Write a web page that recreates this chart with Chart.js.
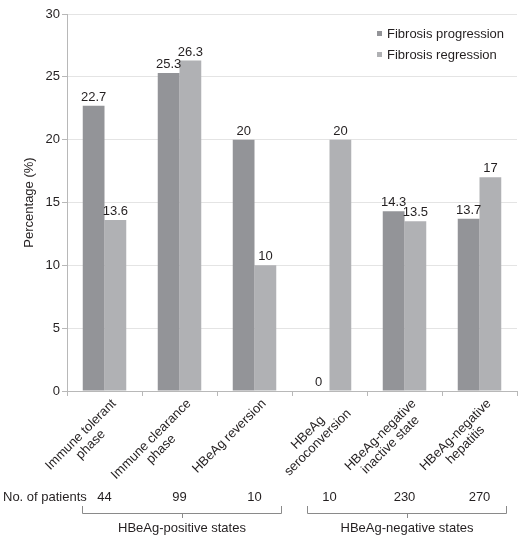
<!DOCTYPE html>
<html>
<head>
<meta charset="utf-8">
<script src="https://cdn.jsdelivr.net/npm/chart.js@4"></script>
<style>
  html, body { margin: 0; padding: 0; background: #fff; }
  #wrap { width: 523px; height: 541px; }
</style>
</head>
<body>
<div id="wrap"><canvas id="chart"></canvas></div>
<script>
const categories = [
    ['Immune tolerant', 'phase'],
    ['Immune clearance', 'phase'],
    ['HBeAg reversion'],
    ['HBeAg', 'seroconversion'],
    ['HBeAg-negative', 'inactive state'],
    ['HBeAg-negative', 'hepatitis']
];
const progression = [22.7, 25.3, 20, 0, 14.3, 13.7];
const regression = [13.6, 26.3, 10, 20, 13.5, 17];
const patients = [44, 99, 10, 10, 230, 270];
const groupNames = ['HBeAg-positive states', 'HBeAg-negative states'];
const groupRanges = [[0, 2], [3, 5]];
const yTicks = [0, 5, 10, 15, 20, 25, 30];

const FONT = '13px "Liberation Sans", Arial, sans-serif';
const TEXT = '#231f20';
const DARK = '#939498';
const LIGHT = '#b0b1b4';
const AXIS = '#b8b8b8';

// value labels, rotated category labels, patient row, group brackets, legend
const extras = {
    id: 'extras',
    afterDatasetsDraw(chart) {
        const ctx = chart.ctx;
        ctx.save();
        ctx.font = FONT;
        ctx.fillStyle = TEXT;
        ctx.textAlign = 'center';
        ctx.textBaseline = 'bottom';
        chart.data.datasets.forEach((ds, di) => {
            chart.getDatasetMeta(di).data.forEach((bar, i) => {
                ctx.fillText(String(ds.data[i]), bar.x, bar.y - 2);
            });
        });
        ctx.restore();
    },
    afterDraw(chart) {
        const ctx = chart.ctx;
        const x = chart.scales.x;
        const base = chart.chartArea.bottom;
        const step = x.getPixelForValue(1) - x.getPixelForValue(0);
        ctx.save();
        ctx.font = FONT;
        ctx.fillStyle = TEXT;

        categories.forEach((lines, i) => {
            const cx = x.getPixelForValue(i);
            const maxW = Math.max(...lines.map(l => ctx.measureText(l).width));
            ctx.save();
            ctx.translate(cx + 5, base + 6);
            ctx.rotate(-Math.PI / 4);
            ctx.textAlign = 'center';
            ctx.textBaseline = 'top';
            lines.forEach((l, j) => ctx.fillText(l, -maxW / 2, j * 14));
            ctx.restore();
        });

        ctx.textBaseline = 'middle';
        ctx.textAlign = 'left';
        ctx.fillText('No. of patients', 3, 497);
        ctx.textAlign = 'center';
        patients.forEach((n, i) => ctx.fillText(String(n), x.getPixelForValue(i), 497));

        ctx.strokeStyle = '#8a8a8a';
        ctx.lineWidth = 1;
        groupRanges.forEach((r, g) => {
            const x0 = Math.round(x.getPixelForValue(r[0]) - step * 0.3) + 0.5;
            const x1 = Math.round(x.getPixelForValue(r[1]) + step * 0.35) + 0.5;
            const mid = Math.round((x0 + x1) / 2) + 0.5;
            ctx.beginPath();
            ctx.moveTo(x0, 506);
            ctx.lineTo(x0, 513.5);
            ctx.lineTo(x1, 513.5);
            ctx.lineTo(x1, 506);
            ctx.moveTo(mid, 513.5);
            ctx.lineTo(mid, 518);
            ctx.stroke();
            ctx.fillText(groupNames[g], (x0 + x1) / 2, 528);
        });

        // legend
        const legend = [['Fibrosis progression', DARK], ['Fibrosis regression', LIGHT]];
        legend.forEach((item, k) => {
            const ly = 34 + k * 21;
            ctx.fillStyle = item[1];
            ctx.fillRect(377, ly - 3, 5, 5);
            ctx.fillStyle = TEXT;
            ctx.textAlign = 'left';
            ctx.fillText(item[0], 387, ly);
        });
        ctx.restore();
    }
};

new Chart(document.getElementById('chart'), {
    type: 'bar',
    data: {
        labels: categories,
        datasets: [
            { label: 'Fibrosis progression', data: progression, backgroundColor: DARK },
            { label: 'Fibrosis regression', data: regression, backgroundColor: LIGHT }
        ]
    },
    options: {
        responsive: true,
        maintainAspectRatio: false,
        animation: false,
        layout: { padding: { top: 14, right: 6, left: 18, bottom: 0 } },
        datasets: { bar: { categoryPercentage: 0.58, barPercentage: 1 } },
        plugins: {
            legend: { display: false },
            tooltip: { enabled: false }
        },
        scales: {
            x: {
                grid: { drawOnChartArea: false, drawTicks: true, tickLength: 5, color: AXIS, tickColor: AXIS },
                border: { color: AXIS },
                ticks: { display: false },
                afterFit: s => { s.height = 150; }
            },
            y: {
                min: 0,
                max: 30,
                afterBuildTicks: s => { s.ticks = yTicks.map(v => ({ value: v })); },
                grid: { color: '#e4e4e4', tickColor: AXIS, tickLength: 5 },
                border: { color: AXIS },
                ticks: { font: { family: '"Liberation Sans", Arial, sans-serif', size: 13 }, color: TEXT, padding: 2 },
                title: { display: true, text: 'Percentage (%)', color: TEXT, font: { family: '"Liberation Sans", Arial, sans-serif', size: 13 }, padding: 4 },
                afterFit: s => { s.width = 49; }
            }
        }
    },
    plugins: [extras]
});
</script>
</body>
</html>
